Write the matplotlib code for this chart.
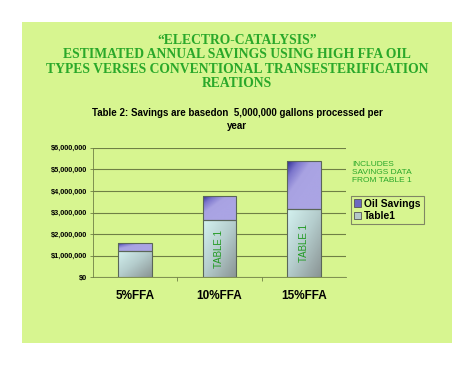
import numpy as np
import matplotlib
matplotlib.use("Agg")
import matplotlib.pyplot as plt
from matplotlib.colors import LinearSegmentedColormap
from matplotlib.patches import Rectangle, Patch

# data
categories = ["5%FFA", "10%FFA", "15%FFA"]
table1 = [1230000, 2640000, 3150000]
oil_savings = [340000, 1120000, 2250000]
yticks = [0, 1000000, 2000000, 3000000, 4000000, 5000000, 6000000]

bg = "#d7f590"
green_txt = "#2aa82a"
grid_col = "#6f7f45"

fig = plt.figure(figsize=(4.74, 3.66), dpi=100)
fig.patch.set_facecolor("white")
fig.patches.append(Rectangle((22 / 474, 1 - 343 / 366), 430 / 474, 321 / 366,
                             transform=fig.transFigure, facecolor=bg,
                             edgecolor="none", zorder=-10))

title = ("\u201cELECTRO-CATALYSIS\u201d\n"
         "ESTIMATED ANNUAL SAVINGS USING HIGH FFA OIL\n"
         "TYPES VERSES CONVENTIONAL TRANSESTERIFICATION\n"
         "REATIONS")
fig.text(0.5, 1 - 34 / 366, title, ha="center", va="top", color=green_txt,
         fontsize=9.8, fontweight="bold", family="Liberation Serif",
         linespacing=1.13)

fig.text(0.5, 1 - 107.5 / 366,
         "Table 2: Savings are basedon  5,000,000 gallons processed per\nyear",
         ha="center", va="top", fontsize=7, fontweight="bold",
         family="Liberation Sans", linespacing=1.4)

ax = fig.add_axes([93 / 474, 1 - 277.3 / 366, 253 / 474, 129.6 / 366])
ax.set_facecolor("none")

x = np.arange(len(categories))
w = 0.4
b1 = ax.bar(x, table1, w, color="#b8d4d4", edgecolor="#5a6658", linewidth=0.8, zorder=3)
b2 = ax.bar(x, oil_savings, w, bottom=table1, color="#8c86d4", edgecolor="#5a6658",
            linewidth=0.8, zorder=3)

cm_t1 = LinearSegmentedColormap.from_list("t1", ["#d4f2f0", "#b4cccc", "#8a9494"])
cm_oil = LinearSegmentedColormap.from_list("oil", ["#2a2890", "#7c76cc", "#a8a2e2", "#aaa4e4"])
n = 64
gi, gj = np.mgrid[0:n, 0:n] / (n - 1)
grad = (gi + gj) / 2
for bars, cm, g in [(b1, cm_t1, grad), (b2, cm_oil, np.clip(grad * 1.8, 0, 1))]:
    for p in bars:
        x0, y0 = p.get_x(), p.get_y()
        im = ax.imshow(g, cmap=cm, extent=(x0, x0 + p.get_width(), y0, y0 + p.get_height()),
                       aspect="auto", origin="upper", zorder=2.9, interpolation="bilinear")
        im.set_clip_path(p)
    for p in bars:
        p.set_facecolor("none")

for i in range(1, len(categories)):
    ax.text(x[i], table1[i] / 2, "TABLE 1", rotation=90, ha="center", va="center",
            color="#229a22", fontsize=7, family="Liberation Sans", zorder=4)

ax.set_xlim(-0.5, len(categories) - 0.5)
ax.set_ylim(0, 6000000)
ax.set_yticks(yticks)
ax.set_yticklabels(["${:,}".format(v) for v in yticks], fontsize=5.3,
                   fontweight="bold", family="Liberation Sans")
ax.yaxis.grid(True, color=grid_col, linewidth=0.8, zorder=1)
ax.set_axisbelow(True)
ax.tick_params(axis="y", length=2, width=0.6, color=grid_col, pad=2)

ax.set_xticks(x)
ax.set_xticklabels(categories, fontsize=8.5, fontweight="bold", family="Liberation Sans")
ax.tick_params(axis="x", length=0, pad=9)
ax.set_xticks(np.arange(0.5, len(categories) - 0.5, 1), minor=True)
ax.tick_params(axis="x", which="minor", length=3, width=0.6, color=grid_col)

for s in ["top", "right"]:
    ax.spines[s].set_visible(False)
ax.spines["left"].set_color(grid_col)
ax.spines["bottom"].set_color(grid_col)
ax.spines["left"].set_linewidth(0.6)
ax.spines["bottom"].set_linewidth(0.6)

fig.text(352 / 474, 1 - 161 / 366, "INCLUDES\nSAVINGS DATA\nFROM TABLE 1", ha="left",
         va="top", color=green_txt, fontsize=6.0, family="Liberation Sans", linespacing=1.2)

handles = [Patch(facecolor="#6c68c0", edgecolor="#555555", linewidth=0.6),
           Patch(facecolor="#b4c8c8", edgecolor="#555555", linewidth=0.6)]
leg = fig.legend(handles, ["Oil Savings", "Table1"], loc="upper left",
                 bbox_to_anchor=(351 / 474, 1 - 195.5 / 366),
                 prop={"family": "Liberation Sans", "weight": "bold", "size": 7.4},
                 frameon=True, fancybox=False, handlelength=0.7, handleheight=0.7,
                 handletextpad=0.3, borderpad=0.3, labelspacing=0.25,
                 borderaxespad=0)
leg.get_frame().set_facecolor(bg)
leg.get_frame().set_edgecolor("#6a6a5a")
leg.get_frame().set_linewidth(0.8)

fig.savefig("out.png", dpi=100)
